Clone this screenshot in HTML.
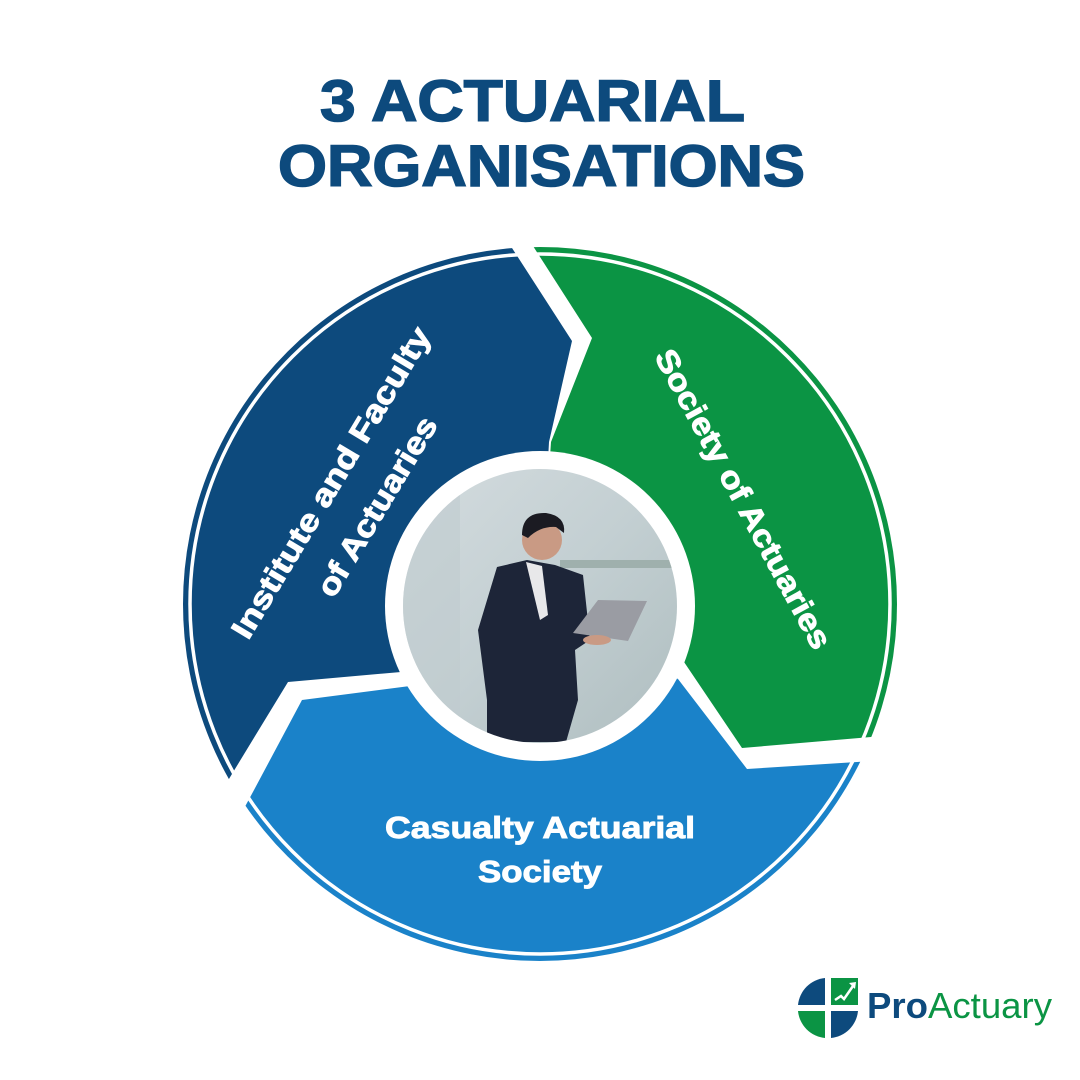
<!DOCTYPE html>
<html><head><meta charset="utf-8"><style>
html,body{margin:0;padding:0;background:#fff;width:1080px;height:1080px;overflow:hidden}
</style></head><body>
<svg width="1080" height="1080" viewBox="0 0 1080 1080" xmlns="http://www.w3.org/2000/svg">
<defs>
<clipPath id="disc"><circle cx="540" cy="604" r="357"/></clipPath>
<clipPath id="photo"><circle cx="540" cy="606" r="137"/></clipPath>
<linearGradient id="bg" x1="0" y1="0" x2="1" y2="1">
<stop offset="0" stop-color="#d4dcdf"/><stop offset="0.5" stop-color="#c3cfd2"/><stop offset="1" stop-color="#aebdbf"/>
</linearGradient>
</defs>
<g font-family="Liberation Sans, sans-serif" font-weight="bold" font-size="58" fill="#0d4a7d" stroke="#0d4a7d" stroke-width="1.5">
<text x="320" y="121" textLength="425" lengthAdjust="spacingAndGlyphs">3 ACTUARIAL</text>
<text x="278" y="186" textLength="527" lengthAdjust="spacingAndGlyphs">ORGANISATIONS</text>
</g>
<g clip-path="url(#disc)">
<polygon fill="#0d4a7d" points="460,168 512,248 572,341 549,442 540,605 401,672 288,682 235,769 180,860 0,860 0,0 460,0"/>
<polygon fill="#0b9444" points="480,160 533,246 592,338 551,442 540,605 682,659 742,748 871,737 1000,726 1080,726 1080,0 480,0"/>
<polygon fill="#1a82c9" points="540,605 410,686 302,700 254,790 200,890 200,1080 1080,1080 1080,750 1000,753 857,762 747,769 678,679"/>
</g>
<circle cx="540" cy="604" r="350" fill="none" stroke="#fff" stroke-width="3.5"/>
<circle cx="540" cy="606" r="155" fill="#fff"/>
<g clip-path="url(#photo)">
<rect x="400" y="465" width="280" height="285" fill="url(#bg)"/>
<rect x="400" y="465" width="60" height="285" fill="#bfcccf" opacity="0.6"/>
<rect x="560" y="560" width="120" height="8" fill="#9fb0ad"/>
<path d="M497,567 L527,560 L555,565 L583,575 L590,640 L575,650 L578,700 L566,742 L487,742 L487,700 L478,630 Z" fill="#1d2538"/>
<path d="M526,562 L542,566 L548,615 L540,620 Z" fill="#e8e8ea"/>
<circle cx="542" cy="540" r="20" fill="#c99a84"/>
<path d="M522,535 Q522,512 546,513 Q566,516 564,533 L556,527 Q540,526 528,538 Z" fill="#1b1b22"/>
<polygon points="573,633 598,600 647,601 628,641" fill="#9a9ca3"/>
<ellipse cx="597" cy="640" rx="14" ry="5" fill="#c99a84"/>
</g>
<g font-family="Liberation Sans, sans-serif" font-weight="bold" fill="#fff" stroke="#fff" stroke-width="0.9" text-anchor="middle" font-size="31">
<text transform="translate(340,488) rotate(-59)" textLength="357" lengthAdjust="spacingAndGlyphs">Institute and Faculty</text>
<text transform="translate(386,512) rotate(-59)" textLength="204" lengthAdjust="spacingAndGlyphs">of Actuaries</text>
<text transform="translate(734,504) rotate(61.5)" textLength="336" lengthAdjust="spacingAndGlyphs">Society of Actuaries</text>
<text x="540" y="838" textLength="310" lengthAdjust="spacingAndGlyphs">Casualty Actuarial</text>
<text x="540" y="882" textLength="124" lengthAdjust="spacingAndGlyphs">Society</text>
</g>
<g transform="translate(828,1008)">
<path d="M-3,-3 L-3,-30 A30,30 0 0,0 -30,-3 Z" fill="#0d4a7d"/>
<rect x="3" y="-30" width="27" height="27" fill="#0b9444"/>
<path d="M-3,3 L-30,3 A30,30 0 0,0 -3,30 Z" fill="#0b9444"/>
<path d="M3,3 L30,3 A30,30 0 0,1 3,30 Z" fill="#0d4a7d"/>
<polyline points="7,-8 13,-12 16,-9 25,-22" fill="none" stroke="#fff" stroke-width="2.5"/>
<polygon points="21,-25 28,-26 27,-19" fill="#fff"/>
</g>
<text x="867" y="1018" font-family="Liberation Sans, sans-serif" font-size="36" textLength="185" lengthAdjust="spacingAndGlyphs"><tspan fill="#0d4a7d" font-weight="bold">Pro</tspan><tspan fill="#0b9444">Actuary</tspan></text>
</svg>
</body></html>
